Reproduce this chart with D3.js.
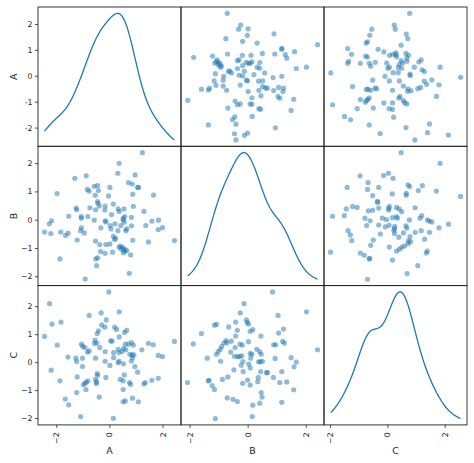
<!DOCTYPE html>
<html>
<head>
<meta charset="utf-8">
<script src="https://cdn.jsdelivr.net/npm/d3@7"></script>
<style>
  body { margin: 0; background: #fff; }
  text { font-family: "DejaVu Sans", sans-serif; fill: #262626; }
</style>
</head>
<body>
<div id="chart"></div>
<script>
// column names of the frame
const names = ["A", "B", "C"];

// (A, B) pairs
const pairsAB = [
  [1.22, 2.39], [0.35, 2.01], [0.30, 1.66], [0.95, 1.60], [-1.32, 1.48], [-0.89, 1.57],
  [0.70, 1.33], [0.84, 1.28], [1.04, 1.16], [1.08, 1.16], [0.00, 1.16], [-0.59, 1.20],
  [-0.46, 1.22], [-0.43, 1.05], [-0.85, 1.09], [-0.78, 1.03], [-1.99, 0.94], [-0.55, 0.88],
  [-0.05, 0.86], [0.86, 0.92], [1.64, 0.89], [-0.46, 0.66], [-0.45, 0.60], [0.13, 0.57],
  [-0.18, 0.50], [-0.40, 0.50], [0.88, 0.49], [-1.27, 0.43], [-1.25, 0.37], [-0.75, 0.44],
  [-0.54, 0.37], [-0.19, 0.36], [0.31, 0.40], [0.53, 0.40], [0.35, 0.31], [-1.55, 0.14],
  [1.28, 0.31], [-1.08, 0.13], [-1.07, 0.07], [-0.83, 0.13], [0.06, 0.20], [0.56, 0.13],
  [0.50, 0.07], [0.81, 0.10], [-2.19, -0.02], [-2.28, -0.13], [-2.46, -0.42], [-2.22, -0.47],
  [-1.85, -0.42], [-1.57, -0.46], [-1.67, -0.54], [-1.23, -0.70], [-0.59, 0.00], [-0.18, -0.02],
  [-0.15, -0.06], [0.50, 0.01], [0.54, -0.07], [0.41, -0.19], [0.19, -0.13], [0.30, -0.37],
  [-1.07, -0.27], [-1.10, -0.37], [-0.96, -0.45], [-0.34, -0.27], [0.01, -0.19], [0.04, -0.31],
  [0.63, -0.31], [0.60, -0.37], [0.81, -0.20], [1.35, -0.19], [1.58, -0.03], [1.83, 0.00],
  [1.82, -0.33], [1.98, -0.26], [0.13, -0.57], [0.21, -0.64], [0.18, -0.68], [0.86, -0.71],
  [2.43, -0.72], [-0.54, -0.74], [-0.38, -0.86], [-0.15, -0.86], [0.00, -0.84], [1.45, -0.77],
  [0.39, -0.92], [0.35, -0.96], [0.48, -0.96], [0.44, -1.03], [0.54, -1.02], [0.56, -1.09],
  [0.51, -1.15], [0.63, -1.07], [-0.35, -1.11], [-0.18, -1.17], [0.10, -1.13], [-0.53, -1.37],
  [-0.46, -1.33], [0.78, -1.23], [-1.88, -1.37], [-0.50, -1.61], [0.73, -1.88], [-0.93, -2.08]
];

// (A, C) pairs
const pairsAC = [
  [-0.04, 2.53], [-2.27, 2.11], [-2.18, 1.38], [-1.84, 1.45], [-0.78, 1.69], [-0.33, 1.78],
  [0.35, 1.82], [-0.14, 1.53], [-0.31, 1.35], [-0.19, 1.27], [0.18, 1.27], [0.25, 1.19],
  [0.63, 1.16], [0.55, 1.08], [-0.43, 1.14], [-0.48, 1.04], [-2.46, 0.94], [-1.98, 0.63],
  [0.35, 0.92], [0.03, 0.78], [0.08, 0.77], [-1.07, 0.66], [-1.02, 0.58], [-0.94, 0.54],
  [-0.56, 0.81], [-0.58, 0.69], [-0.49, 0.70], [-0.38, 0.54], [0.58, 0.66], [0.70, 0.66],
  [0.81, 0.72], [0.88, 0.63], [0.51, 0.51], [0.60, 0.46], [-0.84, 0.38], [-0.78, 0.42],
  [-0.18, 0.40], [0.14, 0.36], [0.31, 0.48], [0.34, 0.36], [0.45, 0.40], [0.75, 0.30],
  [0.83, 0.28], [0.90, 0.28], [0.85, 0.18], [1.20, 0.46], [1.45, 0.69], [1.63, 0.64],
  [1.82, 0.26], [1.98, 0.22], [2.43, 0.76], [-1.58, 0.20], [-1.28, 0.16], [-1.03, 0.16],
  [-0.54, 0.16], [-0.18, 0.05], [0.00, -0.10], [0.14, 0.18], [0.31, 0.00], [0.35, 0.05],
  [0.51, -0.04], [0.81, 0.06], [0.94, -0.14], [1.04, -0.34], [-2.21, -0.27], [-1.25, 0.04],
  [-1.03, -0.14], [-1.88, -0.65], [-1.23, -0.51], [-0.48, -0.39], [-0.46, -0.45], [-0.15, -0.53],
  [0.39, -0.60], [0.54, -0.44], [-0.83, -0.65], [-0.54, -0.60], [-0.50, -0.69], [-0.51, -0.75],
  [-0.89, -0.70], [-0.94, -0.74], [-0.90, -0.96], [-1.25, -1.07], [-1.00, -0.79], [0.50, -0.65],
  [0.74, -0.71], [0.78, -0.78], [0.50, -0.96], [1.33, -0.71], [1.28, -0.76], [1.58, -0.63],
  [1.82, -0.56], [-0.40, -1.23], [0.58, -1.37], [0.50, -1.40], [0.85, -1.27], [1.07, -1.40],
  [-1.68, -1.30], [-1.55, -1.51], [-1.10, -1.93], [0.13, -1.99]
];

// (B, C) pairs
const pairsBC = [
  [0.84, 2.53], [-0.14, 2.11], [2.01, 1.82], [-0.27, 1.78], [1.03, 1.69], [-0.06, 1.53],
  [0.01, 1.38], [-0.03, 1.44], [-0.43, 1.45], [-1.16, 1.34], [-1.09, 1.37], [-0.67, 1.28],
  [-0.37, 1.16], [0.16, 1.18], [0.07, 1.12], [1.22, 1.20], [1.05, 1.06], [-1.61, 1.04],
  [-0.43, 0.95], [0.44, 0.95], [-0.76, 0.79], [-0.73, 0.71], [-0.83, 0.71], [-0.91, 0.58],
  [-0.58, 0.77], [0.01, 0.75], [-0.28, 0.66], [-0.20, 0.63], [0.88, 0.64], [0.95, 0.64],
  [1.19, 0.76], [1.25, 0.70], [-1.89, 0.67], [2.39, 0.46], [-0.96, 0.48], [-1.03, 0.40],
  [-1.09, 0.30], [-0.60, 0.38], [-0.45, 0.54], [-0.47, 0.23], [-0.36, 0.21], [-0.30, 0.23],
  [-0.22, 0.24], [0.07, 0.33], [0.13, 0.30], [0.30, 0.48], [0.40, 0.39], [0.45, 0.30],
  [0.09, 0.16], [-1.41, 0.16], [-0.95, 0.05], [-0.18, 0.04], [-0.24, -0.09], [0.02, -0.05],
  [0.07, -0.19], [0.36, 0.03], [0.42, 0.03], [0.49, 0.05], [0.93, 0.15], [1.48, 0.18],
  [1.66, 0.02], [1.58, -0.15], [-0.49, -0.26], [-0.17, -0.32], [0.43, -0.32], [0.63, -0.36],
  [0.67, -0.36], [1.16, -0.32], [-0.70, -0.51], [-0.89, -0.60], [-1.35, -0.63], [-1.37, -0.65],
  [-1.24, -0.82], [-1.16, -0.96], [-2.09, -0.71], [-0.19, -0.74], [-0.02, -0.62], [0.07, -0.80],
  [0.35, -0.53], [0.33, -0.68], [0.87, -0.53], [1.09, -0.71], [1.33, -0.69], [1.57, -0.97],
  [-0.72, -1.26], [-0.52, -1.31], [-0.37, -1.39], [0.45, -1.07], [0.48, -1.23], [0.40, -1.45],
  [0.16, -1.52], [1.16, -1.42], [-1.13, -2.00], [0.14, -1.93]
];

const yTicks = [-2, -1, 0, 1, 2];
const xTicks = [-2, 0, 2];

const width = 474, height = 463;
const marginLeft = 38, marginTop = 7;
const cw = 143, ch = 139.3;
const n = names.length;
const plotBottom = marginTop + n * ch;

const pairTable = { "A|B": pairsAB, "A|C": pairsAC, "B|C": pairsBC };

function points(xv, yv) {
  if (pairTable[xv + "|" + yv]) return pairTable[xv + "|" + yv].map(d => [d[0], d[1]]);
  return pairTable[yv + "|" + xv].map(d => [d[1], d[0]]);
}

// values of each column used for the density curves
const kdeSource = {
  A: pairsAB.map(d => d[0]),
  B: pairsAB.map(d => d[1]),
  C: pairsAC.map(d => d[1])
};

// domain per column: data extent with 5% padding
const domains = {};
names.forEach(nm => {
  let vals = [];
  Object.keys(pairTable).forEach(k => {
    const idx = k.split("|").indexOf(nm);
    if (idx >= 0) vals = vals.concat(pairTable[k].map(d => d[idx]));
  });
  const [lo, hi] = d3.extent(vals);
  const pad = (hi - lo) * 0.05;
  domains[nm] = [lo - pad, hi + pad];
});

function xScale(j) {
  return d3.scaleLinear().domain(domains[names[j]])
    .range([marginLeft + j * cw, marginLeft + (j + 1) * cw]);
}
function yScale(i) {
  return d3.scaleLinear().domain(domains[names[i]])
    .range([marginTop + (i + 1) * ch, marginTop + i * ch]);
}

// gaussian kde, scott bandwidth
function kde(values) {
  const m = values.length;
  const bw = d3.deviation(values) * Math.pow(m, -0.2);
  const [lo, hi] = d3.extent(values);
  const grid = d3.range(200).map(k => lo + (hi - lo) * k / 199);
  return grid.map(x => {
    const s = d3.sum(values, v => Math.exp(-0.5 * ((x - v) / bw) ** 2));
    return [x, s / (m * bw * Math.sqrt(2 * Math.PI))];
  });
}

const svg = d3.select("#chart").append("svg")
  .attr("width", width)
  .attr("height", height);

const fmt = d3.format("d");

for (let i = 0; i < n; i++) {
  for (let j = 0; j < n; j++) {
    const x = xScale(j), y = yScale(i);
    const g = svg.append("g");
    if (i === j) {
      const dens = kde(kdeSource[names[i]]);
      const [dmin, dmax] = d3.extent(dens, d => d[1]);
      const m = (dmax - dmin) * 0.05;
      const yd = d3.scaleLinear().domain([dmin - m, dmax + m]).range(y.range());
      g.append("path")
        .datum(dens)
        .attr("fill", "none")
        .attr("stroke", "#1f77b4")
        .attr("stroke-width", 1.3)
        .attr("d", d3.line().x(d => x(d[0])).y(d => yd(d[1])));
    } else {
      g.selectAll("circle")
        .data(points(names[j], names[i]))
        .enter().append("circle")
        .attr("cx", d => x(d[0]))
        .attr("cy", d => y(d[1]))
        .attr("r", 2.6)
        .attr("fill", "#1f77b4")
        .attr("fill-opacity", 0.5);
    }
    g.append("rect")
      .attr("x", marginLeft + j * cw).attr("y", marginTop + i * ch)
      .attr("width", cw).attr("height", ch)
      .attr("fill", "none").attr("stroke", "#222").attr("stroke-width", 0.9);
  }
}

// y axes on the left column
for (let i = 0; i < n; i++) {
  const y = yScale(i);
  const g = svg.append("g");
  yTicks.forEach(t => {
    g.append("line").attr("x1", marginLeft - 3).attr("x2", marginLeft)
      .attr("y1", y(t)).attr("y2", y(t)).attr("stroke", "#222").attr("stroke-width", 0.8);
    g.append("text")
      .attr("x", marginLeft - 5.5).attr("y", y(t))
      .attr("text-anchor", "end").attr("dominant-baseline", "central")
      .attr("font-size", 7.8)
      .text(i === 0 ? String(t) : fmt(t));
  });
  svg.append("text")
    .attr("transform", `translate(13,${marginTop + i * ch + ch / 2}) rotate(-90)`)
    .attr("text-anchor", "middle").attr("dominant-baseline", "central")
    .attr("font-size", 9.5)
    .text(names[i]);
}

// x axes on the bottom row
for (let j = 0; j < n; j++) {
  const x = xScale(j);
  const g = svg.append("g");
  xTicks.forEach(t => {
    g.append("line").attr("x1", x(t)).attr("x2", x(t))
      .attr("y1", plotBottom).attr("y2", plotBottom + 3)
      .attr("stroke", "#222").attr("stroke-width", 0.8);
    g.append("text")
      .attr("transform", `translate(${x(t)},${plotBottom + 7.5}) rotate(-90)`)
      .attr("text-anchor", "end").attr("dominant-baseline", "central")
      .attr("font-size", 7.8)
      .text(fmt(t));
  });
  svg.append("text")
    .attr("x", marginLeft + j * cw + cw / 2).attr("y", 454)
    .attr("text-anchor", "middle")
    .attr("font-size", 9.5)
    .text(names[j]);
}
</script>
</body>
</html>
